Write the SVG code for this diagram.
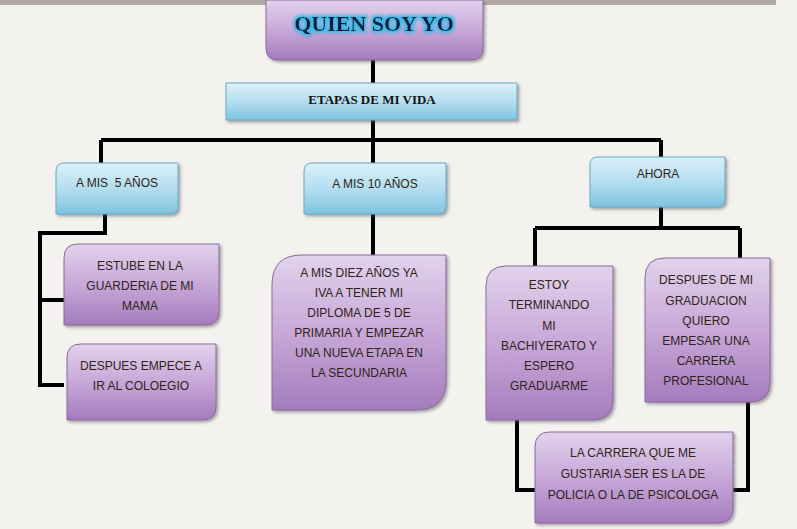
<svg xmlns="http://www.w3.org/2000/svg" width="797" height="529" viewBox="0 0 797 529">
<defs>
<linearGradient id="pg" x1="0" y1="0" x2="0" y2="1"><stop offset="0" stop-color="#e2d2ec"/><stop offset="0.5" stop-color="#c7a8d8"/><stop offset="1" stop-color="#a47cbd"/></linearGradient>
<linearGradient id="bg" x1="0" y1="0" x2="0" y2="1"><stop offset="0" stop-color="#dcf0f8"/><stop offset="0.5" stop-color="#b4def0"/><stop offset="1" stop-color="#7ec3df"/></linearGradient>
<filter id="sh" x="-10%" y="-10%" width="125%" height="125%"><feDropShadow dx="2" dy="2" stdDeviation="1.5" flood-color="#555" flood-opacity="0.5"/></filter>
<filter id="glow" x="-10%" y="-30%" width="120%" height="160%"><feMorphology in="SourceAlpha" operator="dilate" radius="2" result="d"/><feGaussianBlur in="d" stdDeviation="1.5" result="b"/><feFlood flood-color="#3fb8e8"/><feComposite in2="b" operator="in" result="g"/><feMerge><feMergeNode in="g"/><feMergeNode in="SourceGraphic"/></feMerge></filter>
</defs>
<style>
.p{fill:url(#pg);stroke:#8a6a9e;stroke-width:1;filter:url(#sh)}
.b{fill:url(#bg);stroke:#6aa9c4;stroke-width:1;filter:url(#sh)}
.t{font-family:"Liberation Sans",Arial,sans-serif;font-size:12px;fill:#2e2418;text-anchor:middle}
.c{stroke:#000;stroke-width:4;fill:none}
</style>
<rect width="797" height="529" fill="#f3f2ef"/>
<rect x="0" y="0" width="776" height="5" fill="#b3a9a4"/>
<g id="connectors">
<path class="c" d="M373 60V140M101 140H661M101 140V163M373 140V163M661 140V157"/>
<path class="c" d="M105 214V233H40V385H64M40 300H64"/>
<path class="c" d="M373 214V255"/>
<path class="c" d="M661 207V228M535 228H740M535 228V266M740 228V258"/>
<path class="c" d="M517 420V490H535M748 402V490H731"/>
</g>
<g id="n-quien"><path class="p" d="M266 0H483V48Q483 60 471 60H278Q266 60 266 48Z"/>
<text x="374" y="31" font-family="Liberation Serif,serif" font-weight="bold" font-size="22" text-anchor="middle" fill="#0b1d3a" filter="url(#glow)">QUIEN SOY YO</text></g>
<g id="n-etapas"><rect class="b" x="226" y="83" width="291" height="37"/><text x="372" y="104" font-family="Liberation Serif,serif" font-weight="bold" font-size="13" text-anchor="middle" fill="#111">ETAPAS DE MI VIDA</text></g>
<g id="n-5"><path class="b" d="M64 163H178V206Q178 214 170 214H56V171Q56 163 64 163Z"/><text class="t" x="117" y="187">A MIS&#160; 5 AÑOS</text></g>
<g id="n-10"><path class="b" d="M312 163H446V206Q446 214 438 214H304V171Q304 163 312 163Z"/><text class="t" x="375" y="188">A MIS 10 AÑOS</text></g>
<g id="n-ahora"><path class="b" d="M598 157H725V199Q725 207 717 207H590V165Q590 157 598 157Z"/><text class="t" x="658" y="178">AHORA</text></g>
<g id="n-estube"><path class="p" d="M78 244H219V311Q219 325 205 325H64V258Q64 244 78 244Z"/><text class="t" x="140" y="270">ESTUBE EN LA</text><text class="t" x="140" y="290">GUARDERIA DE MI</text><text class="t" x="140" y="310">MAMA</text></g>
<g id="n-despues"><path class="p" d="M81 344H216V406Q216 420 202 420H67V358Q67 344 81 344Z"/><text class="t" x="141" y="370">DESPUES EMPECE A</text><text class="t" x="141" y="390">IR AL COLOEGIO</text></g>
<g id="n-diez"><path class="p" d="M302 255H446V380Q446 410 416 410H272V285Q272 255 302 255Z"/>
<text class="t" x="359" y="277">A MIS DIEZ AÑOS YA</text><text class="t" x="359" y="297">IVA A TENER MI</text><text class="t" x="359" y="317">DIPLOMA DE 5 DE</text><text class="t" x="359" y="337">PRIMARIA Y EMPEZAR</text><text class="t" x="359" y="357">UNA NUEVA ETAPA EN</text><text class="t" x="359" y="377">LA SECUNDARIA</text></g>
<g id="n-estoy"><path class="p" d="M506 266H613V400Q613 420 593 420H486V286Q486 266 506 266Z"/>
<text class="t" x="549" y="289">ESTOY</text><text class="t" x="549" y="309">TERMINANDO</text><text class="t" x="549" y="330">MI</text><text class="t" x="549" y="350">BACHIYERATO Y</text><text class="t" x="549" y="370">ESPERO</text><text class="t" x="549" y="390">GRADUARME</text></g>
<g id="n-grad"><path class="p" d="M665 258H770V382Q770 402 750 402H645V278Q645 258 665 258Z"/>
<text class="t" x="706" y="284">DESPUES DE MI</text><text class="t" x="706" y="305">GRADUACION</text><text class="t" x="706" y="325">QUIERO</text><text class="t" x="706" y="345">EMPESAR UNA</text><text class="t" x="706" y="365">CARRERA</text><text class="t" x="706" y="385">PROFESIONAL</text></g>
<g id="n-carrera"><path class="p" d="M550 432H733V508Q733 523 718 523H535V447Q535 432 550 432Z"/>
<text class="t" x="633" y="457">LA CARRERA QUE ME</text><text class="t" x="633" y="478">GUSTARIA SER ES LA DE</text><text class="t" x="633" y="499">POLICIA O LA DE PSICOLOGA</text></g>
</svg>
